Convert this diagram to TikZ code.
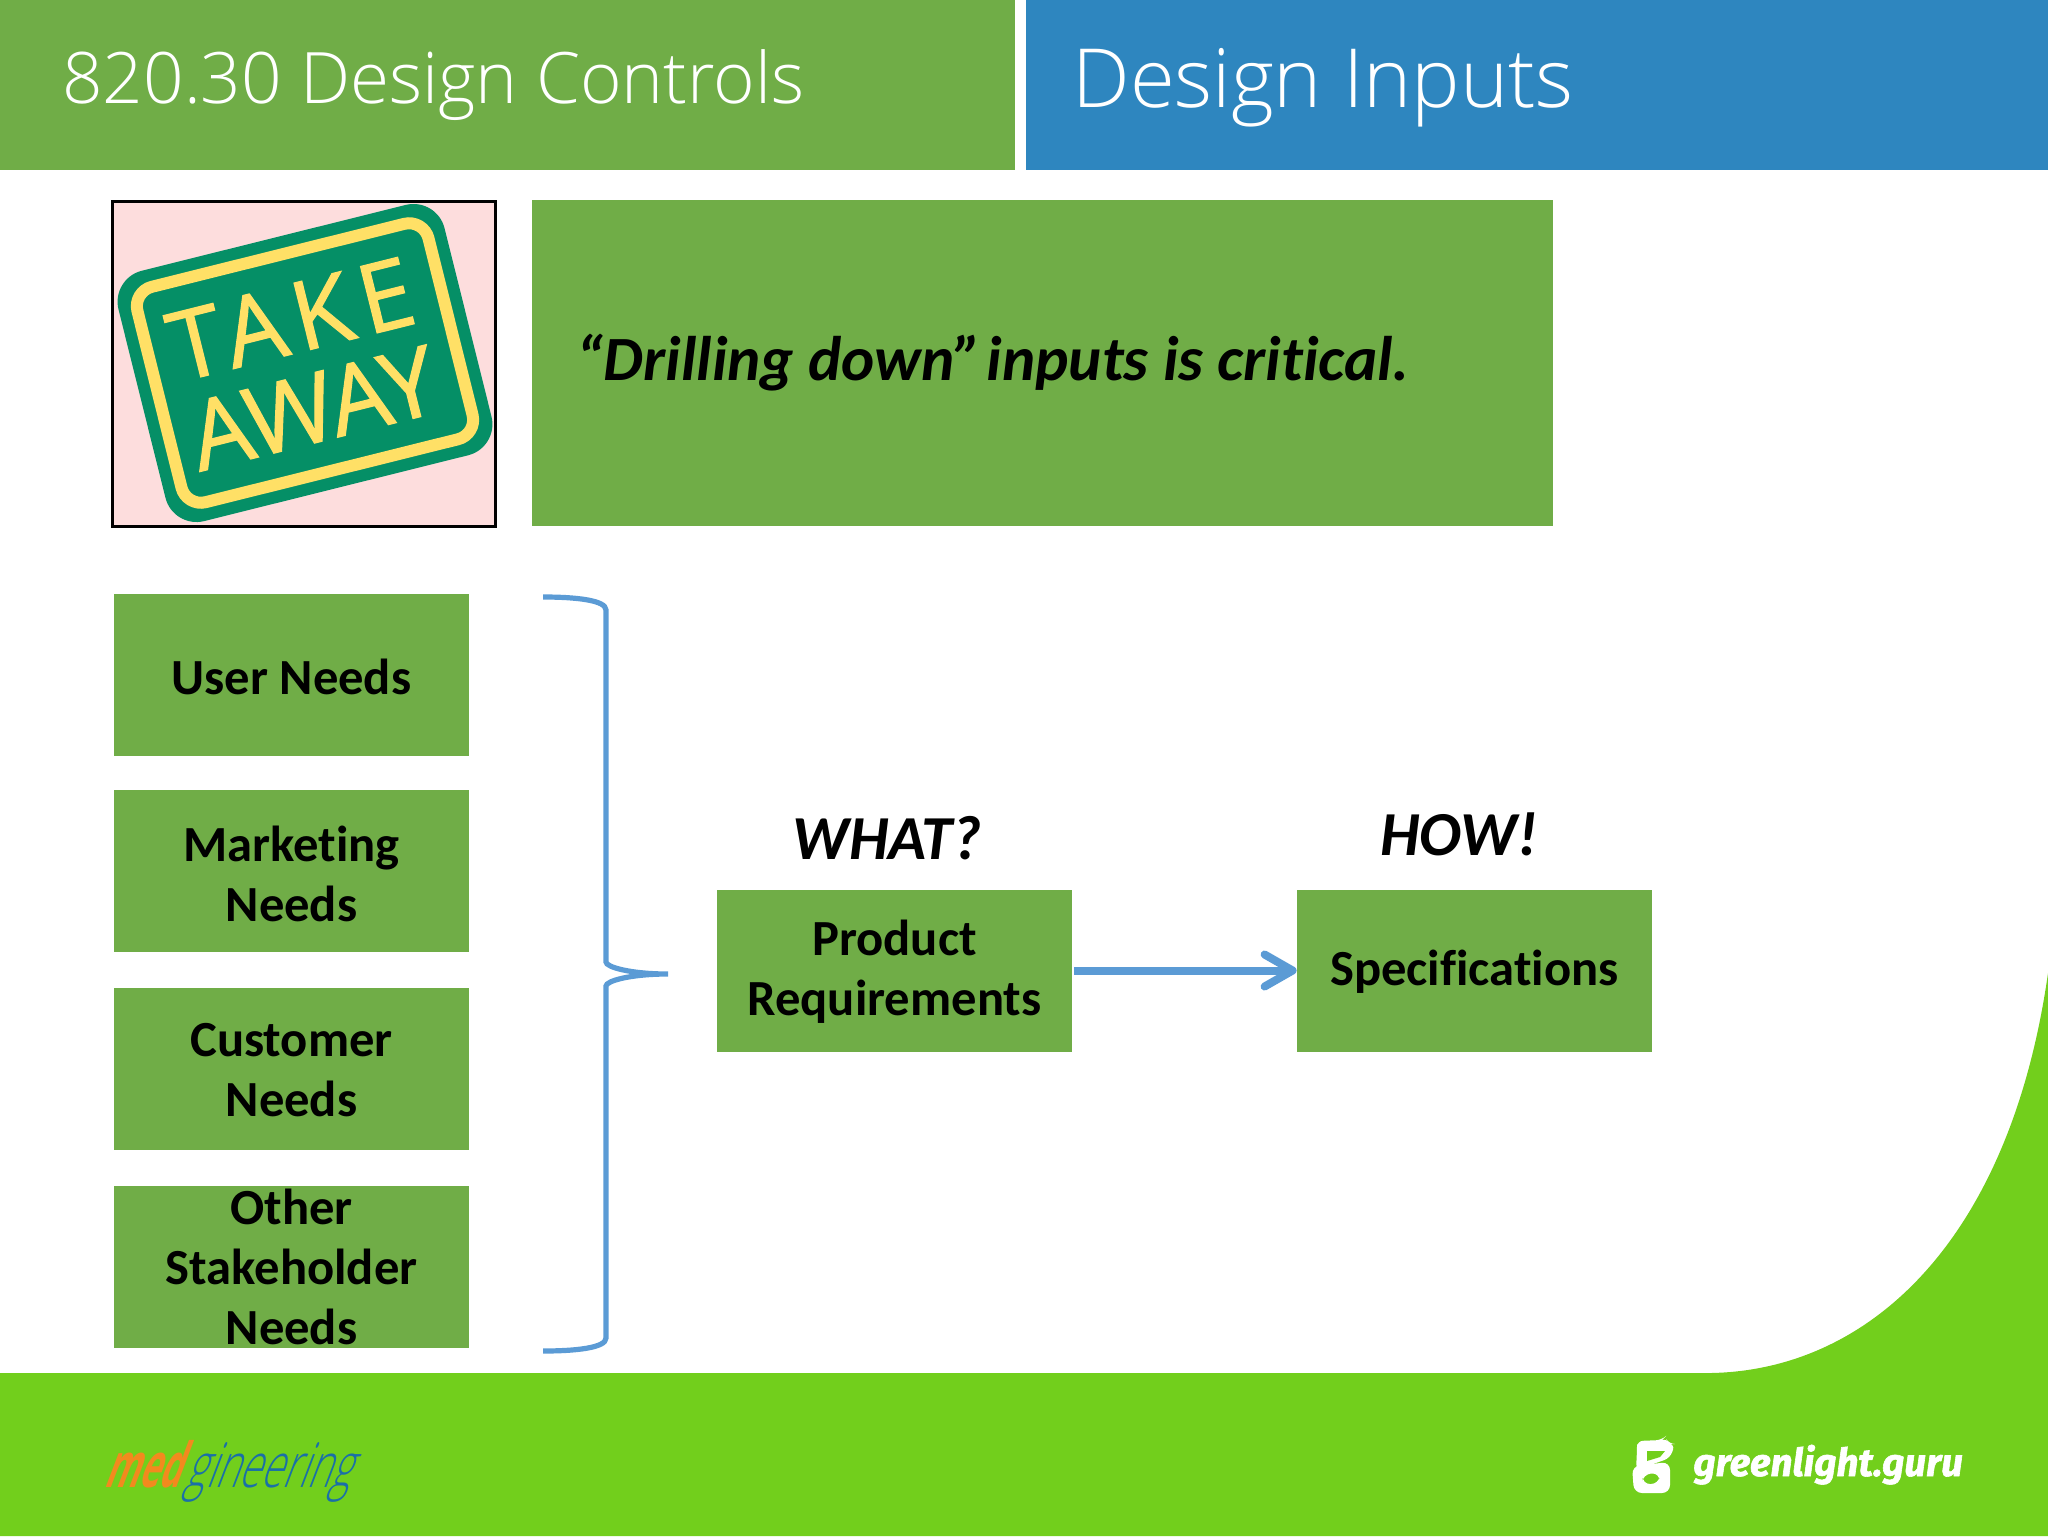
\documentclass[tikz,border=0pt]{standalone}
\usepackage{fontspec}
\usetikzlibrary{arrows.meta}
\setmainfont{Carlito}[Ligatures=NoCommon]
\newfontfamily\titlef{Open Sans}[UprightFont={* Light}]
\newfontfamily\signf{Open Sans}[FakeBold=1.2]
\newfontfamily\medf{Open Sans}
\newfontfamily\guruf{Fira Sans}[BoldItalicFeatures={FakeBold=1.5}]
\definecolor{hgreen}{HTML}{70AD47}
\definecolor{hblue}{HTML}{2E86BF}
\definecolor{foot}{HTML}{72CF1C}
\definecolor{brk}{HTML}{5B9BD5}
\definecolor{sgreen}{HTML}{058F66}
\definecolor{syellow}{HTML}{FFE066}
\definecolor{spink}{HTML}{FDDDDD}
\definecolor{orng}{HTML}{F28A1E}
\definecolor{lblue}{HTML}{1A6FA8}
\tikzset{
  box/.style={fill=hgreen,draw=none,inner sep=0pt,minimum width=177.5pt,minimum height=81pt,align=center,text=black},
  boxtxt/.style={inner sep=0pt,align=center,font=\bfseries\fontsize{25.3}{30}\selectfont,text=black},
  flow/.style={draw=brk,line width=4pt},
  brack/.style={draw=brk,line width=2.6pt,line cap=butt},
  sign/.style={rotate=14,inner sep=0pt},
  signtxt/.style={rotate=14,text=syellow,inner sep=0pt,font=\signf\fontsize{48}{48}\selectfont},
  head/.style={font=\bfseries\itshape\fontsize{31.3}{36}\selectfont,text=black,inner sep=0pt}
}
\begin{document}
\begin{tikzpicture}[x=.5pt,y=-.5pt]
\useasboundingbox (0,0) rectangle (2048,1536);
% header
\fill[hgreen] (0,0) rectangle (1015,170);
\fill[hblue] (1026,0) rectangle (2048,170);
\node[anchor=base west,inner sep=0pt,text=white,font=\titlef\fontsize{35.5}{40}\selectfont] (t1) at (62,104) {820.30 Design Controls};
\node[anchor=base west,inner sep=0pt,text=white,font=\titlef\fontsize{40.8}{44}\selectfont] (t2) at (1072,108) {Design Inputs};
% take away
\node[fill=spink,draw=black,line width=1.5pt,minimum width=191.5pt,minimum height=162.5pt,inner sep=0pt] (tk) at (304,364) {};
\node[sign,fill=sgreen,rounded corners=16pt,minimum width=168pt,minimum height=129pt] (s1) at (305,363) {};
\node[sign,draw=syellow,line width=6pt,rounded corners=10pt,minimum width=150pt,minimum height=111pt] (s2) at (305,363) {};
\node[signtxt] (take) at (291,319) {\addfontfeatures{LetterSpace=10}TAKE};
\node[signtxt] (away) at (313,408) {AWAY};
% quote
\node[fill=hgreen,minimum width=510.5pt,minimum height=163pt,inner sep=0pt] (q) at (1042.5,363) {};
\node[anchor=base west,inner sep=0pt,text=black,font=\bfseries\itshape\fontsize{31.5}{36}\selectfont] (qt) at (576,380) {“Drilling down”\hspace{-.15em} inputs is critical.};
% left boxes
\node[box] (un) at (291.5,675) {};
\node[boxtxt] at (291.5,676.5) {User Needs};
\node[box] (mn) at (291.5,871) {};
\node[boxtxt] at (291.5,873.5) {Marketing\\Needs};
\node[box] (cn) at (291.5,1068.5) {};
\node[boxtxt] at (291.5,1070.5) {Customer\\Needs};
\node[box] (on) at (291.5,1267) {};
\node[boxtxt] at (291.5,1267) {Other\\Stakeholder\\Needs};
% bracket
\coordinate (b1) at (543,597);
\coordinate (b2) at (606,610);
\coordinate (b3) at (606,962);
\coordinate (tip) at (668,974);
\coordinate (b4) at (606,986);
\coordinate (b5) at (606,1338);
\coordinate (b6) at (543,1351);
\draw[brack] (b1) .. controls (575,597) and (606,600) .. (b2) -- (b3) .. controls (606,967) and (630,974) .. (tip) .. controls (630,974) and (606,981) .. (b4) -- (b5) .. controls (606,1348) and (575,1351) .. (b6);
% flow
\node[box] (pr) at (894.5,970.5) {};
\node[boxtxt] at (894.5,972) {Product\\Requirements};
\node[box] (sp) at (1474.5,970.5) {};
\node[boxtxt] at (1474.5,972) {Specifications};
\draw[flow,-{Straight Barb[round,length=14pt,width=16pt]}] (pr.east) ++(2,0) -- (sp.west);
\node[head] (what) at (887,838) {WHAT?};
\node[head] (how) at (1459,834) {HOW!};
% footer
\fill[foot] (0,1373) -- (1711,1373) .. controls (1870,1370) and (2010,1240) .. (2048,973) -- (2048,1536) -- (0,1536) -- cycle;
% logos
\begin{scope}[shift={(103,1487)},xslant=.38,xscale=.56]
\node[anchor=base west,inner sep=0pt,text=orng,font=\medf\bfseries\fontsize{31}{31}\selectfont,transform shape] (med) at (0,0) {med};
\end{scope}
\begin{scope}[shift={(184,1487)},xslant=.38,xscale=.645]
\node[anchor=base west,inner sep=0pt,text=lblue,font=\titlef\fontsize{31}{31}\selectfont,transform shape] (gin) at (0,0) {gineering};
\end{scope}
\node[anchor=base west,inner sep=0pt,text=white,font=\guruf\bfseries\itshape\fontsize{19.3}{20}\selectfont] (gg) at (1693,1476) {greenlight.guru};
% g mark
\fill[white,even odd rule,rounded corners=4pt] (1632,1466) -- (1670,1462) -- (1670,1493) -- (1634,1493) -- cycle (1643,1474) -- (1660,1473) -- (1659,1484) -- (1642,1484) -- cycle;
\fill[white,rounded corners=3pt] (1637,1441) -- (1662,1440) -- (1665,1437) -- (1669,1444) -- (1675,1444) -- (1670,1458) -- (1636,1470) -- (1637,1450) -- cycle;
\fill[foot] (1647,1451) -- (1665,1451) -- (1660,1457) -- (1647,1461) -- cycle;
\end{tikzpicture}
\end{document}
